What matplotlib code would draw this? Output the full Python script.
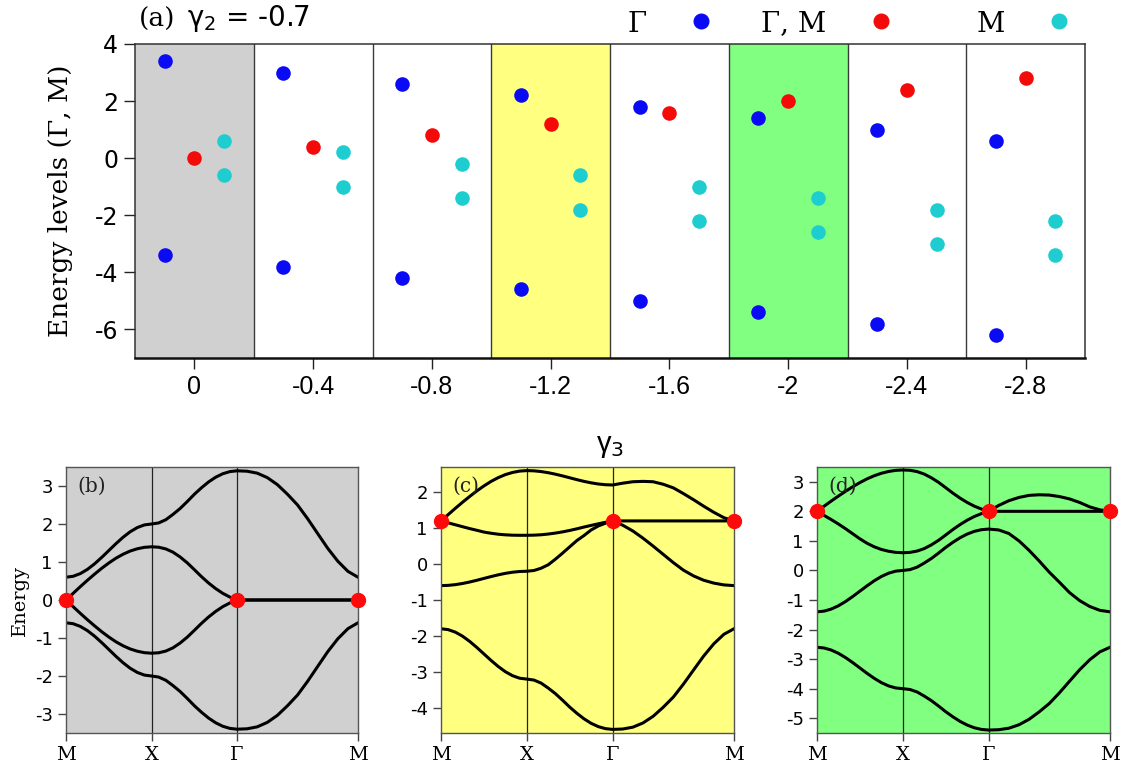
import numpy as np
import matplotlib
matplotlib.use('Agg')
import matplotlib.pyplot as plt
from matplotlib.lines import Line2D

# ---------------- data: panel (a) ----------------
gamma3 = [0.0, -0.4, -0.8, -1.2, -1.6, -2.0, -2.4, -2.8]
gamma3_labels = ['0', '-0.4', '-0.8', '-1.2', '-1.6', '-2', '-2.4', '-2.8']
gamma_upper = [3.4, 3.0, 2.6, 2.2, 1.8, 1.4, 1.0, 0.6]
gamma_lower = [-3.4, -3.8, -4.2, -4.6, -5.0, -5.4, -5.8, -6.2]
gm_level = [0.0, 0.4, 0.8, 1.2, 1.6, 2.0, 2.4, 2.8]
m_upper = [0.6, 0.2, -0.2, -0.6, -1.0, -1.4, -1.8, -2.2]
m_lower = [-0.6, -1.0, -1.4, -1.8, -2.2, -2.6, -3.0, -3.4]
energy_ticks = [4, 2, 0, -2, -4, -6]
energy_labels = ['4', '2', '0', '-2', '-4', '-6']

# ---------------- data: band structures (b), (c), (d) ----------------
# sampled along M -> X -> Gamma -> M (13 samples per segment, shared ends)
path_labels = ['M', 'X', 'Γ', 'M']

b_band1 = [0.6, 0.624, 0.694, 0.805, 0.95, 1.119, 1.3, 1.481, 1.65, 1.795, 1.906, 1.976, 2.0,
           2.028, 2.112, 2.251, 2.406, 2.588, 2.78, 2.952, 3.106, 3.231, 3.323, 3.379, 3.4,
           3.389, 3.338, 3.221, 3.036, 2.784, 2.501, 2.14, 1.748, 1.359, 1.02, 0.754, 0.6]
b_band2 = [0.0, 0.175, 0.35, 0.518, 0.679, 0.833, 0.973, 1.099, 1.204, 1.288, 1.348, 1.386, 1.4,
           1.389, 1.344, 1.26, 1.134, 0.98, 0.8, 0.616, 0.448, 0.3, 0.175, 0.077, 0.0,
           0.0, 0.0, 0.0, 0.0, 0.0, 0.0, 0.0, 0.0, 0.0, 0.0, 0.0, 0.0]
b_band3 = [0.0, -0.175, -0.35, -0.518, -0.679, -0.833, -0.973, -1.099, -1.204, -1.288, -1.348, -1.386, -1.4,
           -1.389, -1.344, -1.26, -1.134, -0.98, -0.8, -0.616, -0.448, -0.3, -0.175, -0.077, 0.0,
           0.0, 0.0, 0.0, 0.0, 0.0, 0.0, 0.0, 0.0, 0.0, 0.0, 0.0, 0.0]
b_band4 = [-0.6, -0.624, -0.694, -0.805, -0.95, -1.119, -1.3, -1.481, -1.65, -1.795, -1.906, -1.976, -2.0,
           -2.028, -2.112, -2.251, -2.406, -2.588, -2.78, -2.952, -3.106, -3.231, -3.323, -3.379, -3.4,
           -3.389, -3.338, -3.221, -3.036, -2.784, -2.501, -2.14, -1.748, -1.359, -1.02, -0.754, -0.6]

c_band1 = [1.2, 1.375, 1.55, 1.718, 1.879, 2.033, 2.173, 2.299, 2.404, 2.488, 2.548, 2.586, 2.6,
           2.593, 2.573, 2.541, 2.5, 2.452, 2.4, 2.348, 2.3, 2.259, 2.227, 2.207, 2.2,
           2.25, 2.29, 2.3, 2.29, 2.22, 2.12, 1.96, 1.79, 1.61, 1.44, 1.29, 1.2]
c_band2 = [1.2, 1.147, 1.093, 1.04, 0.987, 0.94, 0.89, 0.857, 0.83, 0.813, 0.803, 0.8, 0.8,
           0.804, 0.815, 0.835, 0.862, 0.895, 0.935, 0.98, 1.03, 1.075, 1.12, 1.162, 1.2,
           1.2, 1.2, 1.2, 1.2, 1.2, 1.2, 1.2, 1.2, 1.2, 1.2, 1.2, 1.2]
c_band3 = [-0.6, -0.593, -0.573, -0.541, -0.5, -0.452, -0.4, -0.348, -0.3, -0.259, -0.227, -0.207, -0.2,
           -0.179, -0.116, -0.019, 0.136, 0.304, 0.48, 0.654, 0.794, 0.949, 1.06, 1.137, 1.2,
           1.08, 0.92, 0.72, 0.5, 0.27, 0.04, -0.17, -0.33, -0.45, -0.53, -0.58, -0.6]
c_band4 = [-1.8, -1.824, -1.894, -2.005, -2.15, -2.319, -2.5, -2.681, -2.85, -2.995, -3.106, -3.176, -3.2,
           -3.228, -3.312, -3.451, -3.606, -3.788, -3.98, -4.152, -4.306, -4.431, -4.523, -4.579, -4.6,
           -4.589, -4.538, -4.421, -4.236, -3.984, -3.701, -3.34, -2.948, -2.559, -2.22, -1.954, -1.8]

d_band1 = [2.0, 2.175, 2.35, 2.518, 2.679, 2.833, 2.973, 3.099, 3.204, 3.288, 3.348, 3.386, 3.4,
           3.389, 3.344, 3.26, 3.134, 2.98, 2.8, 2.616, 2.448, 2.3, 2.175, 2.077, 2.0,
           2.2, 2.36, 2.47, 2.54, 2.56, 2.55, 2.5, 2.42, 2.3, 2.15, 2.05, 2.0]
d_band2 = [2.0, 1.86, 1.72, 1.57, 1.41, 1.24, 1.07, 0.92, 0.8, 0.71, 0.65, 0.612, 0.6,
           0.611, 0.656, 0.74, 0.866, 1.02, 1.2, 1.384, 1.552, 1.7, 1.825, 1.923, 2.0,
           2.0, 2.0, 2.0, 2.0, 2.0, 2.0, 2.0, 2.0, 2.0, 2.0, 2.0, 2.0]
d_band3 = [-1.4, -1.376, -1.306, -1.195, -1.05, -0.881, -0.7, -0.519, -0.35, -0.205, -0.094, -0.024, 0.0,
           0.028, 0.112, 0.251, 0.406, 0.588, 0.78, 0.952, 1.106, 1.231, 1.323, 1.379, 1.4,
           1.37, 1.25, 1.0, 0.68, 0.32, -0.06, -0.4, -0.75, -1.02, -1.22, -1.35, -1.4]
d_band4 = [-2.6, -2.624, -2.694, -2.805, -2.95, -3.119, -3.3, -3.481, -3.65, -3.795, -3.906, -3.976, -4.0,
           -4.028, -4.112, -4.251, -4.406, -4.588, -4.78, -4.952, -5.106, -5.231, -5.323, -5.379, -5.4,
           -5.389, -5.338, -5.221, -5.036, -4.784, -4.501, -4.14, -3.748, -3.359, -3.02, -2.754, -2.6]

b_degenerate = 0.0
c_degenerate = 1.2
d_degenerate = 2.0

b_ticks = [3, 2, 1, 0, -1, -2, -3]
c_ticks = [2, 1, 0, -1, -2, -3, -4]
d_ticks = [3, 2, 1, 0, -1, -2, -3, -4, -5]

# ---------------- styling ----------------
SERIF = ['DejaVu Serif']
SANS = ['DejaVu Sans']
NARROW = ['Liberation Sans Narrow', 'Liberation Sans', 'DejaVu Sans']
COL_G = '#0a0af5'
COL_GM = '#f50a0a'
COL_M = '#1ecdd0'
BG_GRAY = '#d0d0d0'
BG_YEL = '#ffff80'
BG_GRN = '#80ff80'

fig = plt.figure(figsize=(11.25, 7.69), dpi=100)

# ---------------- panel (a) ----------------
ax = fig.add_axes([135 / 1125, 1 - 358 / 769, 950 / 1125, 314 / 769])
ax.set_xlim(0.2, -3.0)
ax.set_ylim(-7, 4)
ax.axvspan(0.2, -0.2, color=BG_GRAY, zorder=0, lw=0)
ax.axvspan(-1.0, -1.4, color=BG_YEL, zorder=0, lw=0)
ax.axvspan(-1.8, -2.2, color=BG_GRN, zorder=0, lw=0)
for v in np.arange(-0.2, -2.7, -0.4):
    ax.axvline(v, color='#3a3a3a', lw=1.0, zorder=1)

g3 = np.array(gamma3)
ax.scatter(g3 + 0.1, gamma_upper, s=110, color=COL_G, zorder=3, lw=0)
ax.scatter(g3 + 0.1, gamma_lower, s=110, color=COL_G, zorder=3, lw=0)
ax.scatter(g3, gm_level, s=110, color=COL_GM, zorder=3, lw=0)
ax.scatter(g3 - 0.1, m_upper, s=110, color=COL_M, zorder=3, lw=0)
ax.scatter(g3 - 0.1, m_lower, s=110, color=COL_M, zorder=3, lw=0)

ax.set_xticks(gamma3)
ax.set_xticklabels(gamma3_labels, family=NARROW, fontsize=18)
ax.set_yticks(energy_ticks)
ax.set_yticklabels(energy_labels, family=SANS, fontsize=17)
ax.tick_params(direction='out', length=8, width=1, color='#222222')
ax.tick_params(axis='x', pad=4)
ax.tick_params(axis='y', pad=4)
for s in ax.spines.values():
    s.set_color('#333333')
    s.set_linewidth(1.1)
ax.spines['bottom'].set_linewidth(1.8)
ax.spines['bottom'].set_color('#111111')
ax.set_xlabel('γ$_3$', family=NARROW, fontsize=21, labelpad=24)
ax.set_ylabel('Energy levels (Γ, M)', family=SERIF, fontsize=19, labelpad=16)

fig.text(139 / 1125, 1 - 19 / 769, '(a)', fontsize=19,
         family=SERIF, va='center', ha='left')
fig.text(187 / 1125, 1 - 19 / 769, 'γ$_2$ = -0.7', fontsize=20,
         family=SANS, va='center', ha='left')

# legend (label then marker)
leg_y = 1 - 24 / 769
for label, xl, xm, col in [('Γ', 637, 701, COL_G), ('Γ, M', 794, 881, COL_GM),
                            ('M', 991, 1059, COL_M)]:
    fig.text(xl / 1125, leg_y, label, family=SERIF, fontsize=20,
             ha='center', va='center')
    fig.add_artist(Line2D([xm / 1125], [1 - 21 / 769], marker='o', ms=10.5,
                          color=col, lw=0, transform=fig.transFigure))

# ---------------- band panels ----------------
seg1 = np.linspace(0, 1, 13)
seg2 = np.linspace(1, 2, 13)[1:]
seg3 = np.linspace(2, 2 + np.sqrt(2), 13)[1:]
kpath = np.concatenate([seg1, seg2, seg3])
kticks = [0, 1, 2, 2 + np.sqrt(2)]


def band_panel(rect, bands, degenerate, ylim, yticks, tag, bg, ylabel=None):
    a = fig.add_axes(rect)
    a.set_facecolor(bg)
    for xv in kticks[1:3]:
        a.axvline(xv, color='#222222', lw=0.9, zorder=1)
    for bnd in bands:
        a.plot(kpath, bnd, color='black', lw=2.2, zorder=2,
               solid_joinstyle='round')
    a.plot([kticks[0], kticks[2], kticks[3]], [degenerate] * 3, 'o',
           color='#ff0a0a', ms=10, zorder=4, clip_on=False, lw=0)
    a.set_xlim(kticks[0], kticks[3])
    a.set_ylim(*ylim)
    a.set_xticks(kticks)
    a.set_xticklabels(path_labels, family=SERIF, fontsize=14)
    a.set_yticks(yticks)
    a.set_yticklabels([str(t) for t in yticks], family=SANS, fontsize=13)
    a.tick_params(direction='out', length=6, width=1, color='#444444')
    for s in a.spines.values():
        s.set_color('#555555')
        s.set_linewidth(1.0)
    a.text(0.04, 0.965, tag, transform=a.transAxes, family=SERIF,
           fontsize=14.5, va='top', ha='left', color='#222222')
    if ylabel:
        a.set_ylabel(ylabel, family=SERIF, fontsize=14, labelpad=4)
    return a


band_panel([66 / 1125, 1 - 733 / 769, 292 / 1125, 266 / 769],
           [b_band1, b_band2, b_band3, b_band4], b_degenerate,
           (-3.5, 3.5), b_ticks, '(b)', BG_GRAY, ylabel='Energy')
band_panel([441 / 1125, 1 - 733 / 769, 293 / 1125, 266 / 769],
           [c_band1, c_band2, c_band3, c_band4], c_degenerate,
           (-4.7, 2.7), c_ticks, '(c)', BG_YEL)
band_panel([817 / 1125, 1 - 733 / 769, 293 / 1125, 266 / 769],
           [d_band1, d_band2, d_band3, d_band4], d_degenerate,
           (-5.5, 3.5), d_ticks, '(d)', BG_GRN)

fig.savefig('out.png', dpi=100)
